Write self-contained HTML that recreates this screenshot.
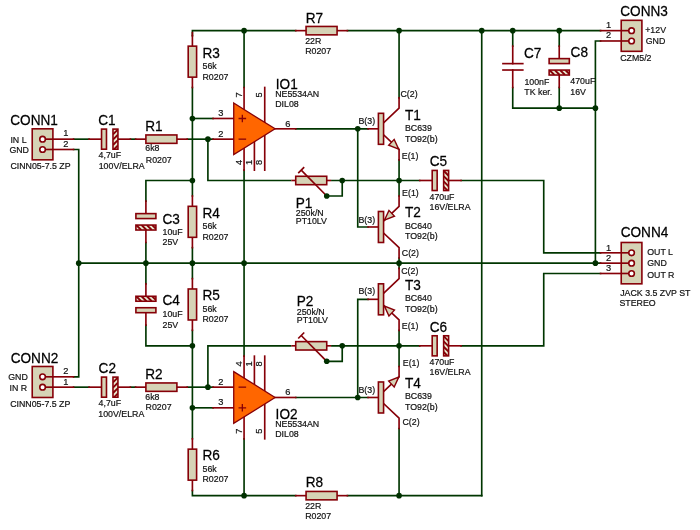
<!DOCTYPE html>
<html lang="en">
<head>
<meta charset="utf-8">
<title>Stereo headphone amplifier schematic</title>
<style>
html,body{margin:0;padding:0;background:#ffffff;}
body{width:700px;height:530px;overflow:hidden;}
svg{display:block;will-change:transform;}
text{font-family:"Liberation Sans",Arial,Helvetica,sans-serif;}
.b{font-size:15.3px;fill:#000000;stroke:#000000;stroke-width:0.25px;}
.s{font-size:9.9px;fill:#111111;stroke:#111111;stroke-width:0.22px;}
.p{font-size:9.6px;fill:#111111;stroke:#111111;stroke-width:0.2px;}
</style>
</head>
<body>
<svg width="700" height="530" viewBox="0 0 700 530">
<rect x="0" y="0" width="700" height="530" fill="#ffffff"/>
<polyline points="192.4,35.82 192.4,30.65 295.73,30.65" fill="none" stroke="#003600" stroke-width="1.65" stroke-linejoin="miter" stroke-linecap="square"/>
<polyline points="347.4,30.65 600.57,30.65" fill="none" stroke="#003600" stroke-width="1.65" stroke-linejoin="miter" stroke-linecap="square"/>
<polyline points="244.07,30.65 244.07,87.48" fill="none" stroke="#003600" stroke-width="1.65" stroke-linejoin="miter" stroke-linecap="square"/>
<polyline points="399.07,30.65 399.07,97.82" fill="none" stroke="#003600" stroke-width="1.65" stroke-linejoin="miter" stroke-linecap="square"/>
<polyline points="481.73,30.65 481.73,495.65" fill="none" stroke="#003600" stroke-width="1.65" stroke-linejoin="miter" stroke-linecap="square"/>
<polyline points="512.73,30.65 512.73,46.15" fill="none" stroke="#003600" stroke-width="1.65" stroke-linejoin="miter" stroke-linecap="square"/>
<polyline points="559.23,30.65 559.23,46.15" fill="none" stroke="#003600" stroke-width="1.65" stroke-linejoin="miter" stroke-linecap="square"/>
<polyline points="512.73,87.48 512.73,108.15 595.4,108.15" fill="none" stroke="#003600" stroke-width="1.65" stroke-linejoin="miter" stroke-linecap="square"/>
<polyline points="559.23,87.48 559.23,108.15" fill="none" stroke="#003600" stroke-width="1.65" stroke-linejoin="miter" stroke-linecap="square"/>
<polyline points="600.57,40.98 595.4,40.98 595.4,263.15" fill="none" stroke="#003600" stroke-width="1.65" stroke-linejoin="miter" stroke-linecap="square"/>
<polyline points="192.4,87.48 192.4,195.98" fill="none" stroke="#003600" stroke-width="1.65" stroke-linejoin="miter" stroke-linecap="square"/>
<polyline points="192.4,247.65 192.4,278.65" fill="none" stroke="#003600" stroke-width="1.65" stroke-linejoin="miter" stroke-linecap="square"/>
<polyline points="192.4,330.32 192.4,438.82" fill="none" stroke="#003600" stroke-width="1.65" stroke-linejoin="miter" stroke-linecap="square"/>
<polyline points="192.4,490.48 192.4,495.65 295.73,495.65" fill="none" stroke="#003600" stroke-width="1.65" stroke-linejoin="miter" stroke-linecap="square"/>
<polyline points="347.4,495.65 481.73,495.65" fill="none" stroke="#003600" stroke-width="1.65" stroke-linejoin="miter" stroke-linecap="square"/>
<polyline points="192.4,118.48 213.07,118.48" fill="none" stroke="#003600" stroke-width="1.65" stroke-linejoin="miter" stroke-linecap="square"/>
<polyline points="192.4,407.82 213.07,407.82" fill="none" stroke="#003600" stroke-width="1.65" stroke-linejoin="miter" stroke-linecap="square"/>
<polyline points="244.07,170.15 244.07,356.15" fill="none" stroke="#003600" stroke-width="1.65" stroke-linejoin="miter" stroke-linecap="square"/>
<polyline points="244.07,438.82 244.07,495.65" fill="none" stroke="#003600" stroke-width="1.65" stroke-linejoin="miter" stroke-linecap="square"/>
<polyline points="73.57,149.48 78.73,149.48 78.73,376.82 73.57,376.82" fill="none" stroke="#003600" stroke-width="1.65" stroke-linejoin="miter" stroke-linecap="square"/>
<polyline points="78.73,263.15 600.57,263.15" fill="none" stroke="#003600" stroke-width="1.65" stroke-linejoin="miter" stroke-linecap="square"/>
<polyline points="73.57,139.15 89.07,139.15" fill="none" stroke="#003600" stroke-width="1.65" stroke-linejoin="miter" stroke-linecap="square"/>
<polyline points="130.4,139.15 135.57,139.15" fill="none" stroke="#003600" stroke-width="1.65" stroke-linejoin="miter" stroke-linecap="square"/>
<polyline points="187.23,139.15 213.07,139.15" fill="none" stroke="#003600" stroke-width="1.65" stroke-linejoin="miter" stroke-linecap="square"/>
<polyline points="207.9,139.15 207.9,180.48 290.57,180.48" fill="none" stroke="#003600" stroke-width="1.65" stroke-linejoin="miter" stroke-linecap="square"/>
<polyline points="73.57,387.15 89.07,387.15" fill="none" stroke="#003600" stroke-width="1.65" stroke-linejoin="miter" stroke-linecap="square"/>
<polyline points="130.4,387.15 135.57,387.15" fill="none" stroke="#003600" stroke-width="1.65" stroke-linejoin="miter" stroke-linecap="square"/>
<polyline points="187.23,387.15 213.07,387.15" fill="none" stroke="#003600" stroke-width="1.65" stroke-linejoin="miter" stroke-linecap="square"/>
<polyline points="207.9,387.15 207.9,345.82 290.57,345.82" fill="none" stroke="#003600" stroke-width="1.65" stroke-linejoin="miter" stroke-linecap="square"/>
<polyline points="145.9,201.15 145.9,180.48 192.4,180.48" fill="none" stroke="#003600" stroke-width="1.65" stroke-linejoin="miter" stroke-linecap="square"/>
<polyline points="145.9,242.48 145.9,283.82" fill="none" stroke="#003600" stroke-width="1.65" stroke-linejoin="miter" stroke-linecap="square"/>
<polyline points="145.9,325.15 145.9,345.82 192.4,345.82" fill="none" stroke="#003600" stroke-width="1.65" stroke-linejoin="miter" stroke-linecap="square"/>
<polyline points="331.9,180.48 419.73,180.48" fill="none" stroke="#003600" stroke-width="1.65" stroke-linejoin="miter" stroke-linecap="square"/>
<polyline points="326.73,195.98 342.23,195.98 342.23,180.48" fill="none" stroke="#003600" stroke-width="1.65" stroke-linejoin="miter" stroke-linecap="square"/>
<polyline points="331.9,345.82 419.73,345.82" fill="none" stroke="#003600" stroke-width="1.65" stroke-linejoin="miter" stroke-linecap="square"/>
<polyline points="326.73,361.32 342.23,361.32 342.23,345.82" fill="none" stroke="#003600" stroke-width="1.65" stroke-linejoin="miter" stroke-linecap="square"/>
<polyline points="461.07,180.48 543.73,180.48 543.73,252.82 600.57,252.82" fill="none" stroke="#003600" stroke-width="1.65" stroke-linejoin="miter" stroke-linecap="square"/>
<polyline points="461.07,345.82 543.73,345.82 543.73,273.48 600.57,273.48" fill="none" stroke="#003600" stroke-width="1.65" stroke-linejoin="miter" stroke-linecap="square"/>
<polyline points="295.73,128.82 368.07,128.82" fill="none" stroke="#003600" stroke-width="1.65" stroke-linejoin="miter" stroke-linecap="square"/>
<polyline points="357.73,128.82 357.73,226.98 368.07,226.98" fill="none" stroke="#003600" stroke-width="1.65" stroke-linejoin="miter" stroke-linecap="square"/>
<polyline points="295.73,397.48 368.07,397.48" fill="none" stroke="#003600" stroke-width="1.65" stroke-linejoin="miter" stroke-linecap="square"/>
<polyline points="357.73,397.48 357.73,299.32 368.07,299.32" fill="none" stroke="#003600" stroke-width="1.65" stroke-linejoin="miter" stroke-linecap="square"/>
<polyline points="399.07,159.82 399.07,195.98" fill="none" stroke="#003600" stroke-width="1.65" stroke-linejoin="miter" stroke-linecap="square"/>
<polyline points="399.07,257.98 399.07,268.32" fill="none" stroke="#003600" stroke-width="1.65" stroke-linejoin="miter" stroke-linecap="square"/>
<polyline points="399.07,330.32 399.07,366.48" fill="none" stroke="#003600" stroke-width="1.65" stroke-linejoin="miter" stroke-linecap="square"/>
<polyline points="399.07,428.48 399.07,495.65" fill="none" stroke="#003600" stroke-width="1.65" stroke-linejoin="miter" stroke-linecap="square"/>
<polyline points="295.73,30.65 306.07,30.65" fill="none" stroke="#860008" stroke-width="1.65" stroke-linecap="square"/>
<polyline points="337.07,30.65 347.4,30.65" fill="none" stroke="#860008" stroke-width="1.65" stroke-linecap="square"/>
<rect x="306.07" y="26.45" width="31.00" height="8.40" fill="#d6d3b6" stroke="#860008" stroke-width="1.6"/>
<polyline points="295.73,495.65 306.07,495.65" fill="none" stroke="#860008" stroke-width="1.65" stroke-linecap="square"/>
<polyline points="337.07,495.65 347.4,495.65" fill="none" stroke="#860008" stroke-width="1.65" stroke-linecap="square"/>
<rect x="306.07" y="491.45" width="31.00" height="8.40" fill="#d6d3b6" stroke="#860008" stroke-width="1.6"/>
<polyline points="135.57,139.15 145.9,139.15" fill="none" stroke="#860008" stroke-width="1.65" stroke-linecap="square"/>
<polyline points="176.9,139.15 187.23,139.15" fill="none" stroke="#860008" stroke-width="1.65" stroke-linecap="square"/>
<rect x="145.90" y="134.95" width="31.00" height="8.40" fill="#d6d3b6" stroke="#860008" stroke-width="1.6"/>
<polyline points="135.57,387.15 145.9,387.15" fill="none" stroke="#860008" stroke-width="1.65" stroke-linecap="square"/>
<polyline points="176.9,387.15 187.23,387.15" fill="none" stroke="#860008" stroke-width="1.65" stroke-linecap="square"/>
<rect x="145.90" y="382.95" width="31.00" height="8.40" fill="#d6d3b6" stroke="#860008" stroke-width="1.6"/>
<polyline points="192.4,35.82 192.4,46.15" fill="none" stroke="#860008" stroke-width="1.65" stroke-linecap="square"/>
<polyline points="192.4,77.15 192.4,87.48" fill="none" stroke="#860008" stroke-width="1.65" stroke-linecap="square"/>
<rect x="188.20" y="46.15" width="8.40" height="31.00" fill="#d6d3b6" stroke="#860008" stroke-width="1.6"/>
<polyline points="192.4,31.849999999999998 192.4,35.82" fill="none" stroke="#860008" stroke-width="1.65" stroke-linecap="butt"/>
<polyline points="192.4,195.98 192.4,206.32" fill="none" stroke="#860008" stroke-width="1.65" stroke-linecap="square"/>
<polyline points="192.4,237.32 192.4,247.65" fill="none" stroke="#860008" stroke-width="1.65" stroke-linecap="square"/>
<rect x="188.20" y="206.32" width="8.40" height="31.00" fill="#d6d3b6" stroke="#860008" stroke-width="1.6"/>
<polyline points="192.4,278.65 192.4,288.98" fill="none" stroke="#860008" stroke-width="1.65" stroke-linecap="square"/>
<polyline points="192.4,319.98 192.4,330.32" fill="none" stroke="#860008" stroke-width="1.65" stroke-linecap="square"/>
<rect x="188.20" y="288.98" width="8.40" height="31.00" fill="#d6d3b6" stroke="#860008" stroke-width="1.6"/>
<polyline points="192.4,438.82 192.4,449.15" fill="none" stroke="#860008" stroke-width="1.65" stroke-linecap="square"/>
<polyline points="192.4,480.15 192.4,490.48" fill="none" stroke="#860008" stroke-width="1.65" stroke-linecap="square"/>
<rect x="188.20" y="449.15" width="8.40" height="31.00" fill="#d6d3b6" stroke="#860008" stroke-width="1.6"/>
<polyline points="89.07,139.15 101.53,139.15" fill="none" stroke="#860008" stroke-width="1.65" stroke-linecap="square"/>
<polyline points="117.93,139.15 130.4,139.15" fill="none" stroke="#860008" stroke-width="1.65" stroke-linecap="square"/>
<rect x="101.53" y="129.10" width="4.95" height="20.10" fill="#d6d3b6" stroke="#860008" stroke-width="1.6"/>
<clipPath id="c74"><rect x="112.98" y="129.10" width="4.95" height="20.10"/></clipPath>
<rect x="112.98" y="129.10" width="4.95" height="20.10" fill="#e8ecd2"/>
<g clip-path="url(#c74)" stroke="#860008" stroke-width="1.9"><line x1="112.98" y1="129.10" x2="117.93" y2="124.15"/><line x1="112.98" y1="134.40" x2="117.93" y2="129.45"/><line x1="112.98" y1="139.70" x2="117.93" y2="134.75"/><line x1="112.98" y1="145.00" x2="117.93" y2="140.05"/><line x1="112.98" y1="150.30" x2="117.93" y2="145.35"/><line x1="112.98" y1="155.60" x2="117.93" y2="150.65"/></g>
<rect x="112.98" y="129.10" width="4.95" height="20.10" fill="none" stroke="#860008" stroke-width="1.6"/>
<polyline points="89.07,387.15 101.53,387.15" fill="none" stroke="#860008" stroke-width="1.65" stroke-linecap="square"/>
<polyline points="117.93,387.15 130.4,387.15" fill="none" stroke="#860008" stroke-width="1.65" stroke-linecap="square"/>
<rect x="101.53" y="377.10" width="4.95" height="20.10" fill="#d6d3b6" stroke="#860008" stroke-width="1.6"/>
<clipPath id="c81"><rect x="112.98" y="377.10" width="4.95" height="20.10"/></clipPath>
<rect x="112.98" y="377.10" width="4.95" height="20.10" fill="#e8ecd2"/>
<g clip-path="url(#c81)" stroke="#860008" stroke-width="1.9"><line x1="112.98" y1="377.10" x2="117.93" y2="372.15"/><line x1="112.98" y1="382.40" x2="117.93" y2="377.45"/><line x1="112.98" y1="387.70" x2="117.93" y2="382.75"/><line x1="112.98" y1="393.00" x2="117.93" y2="388.05"/><line x1="112.98" y1="398.30" x2="117.93" y2="393.35"/><line x1="112.98" y1="403.60" x2="117.93" y2="398.65"/></g>
<rect x="112.98" y="377.10" width="4.95" height="20.10" fill="none" stroke="#860008" stroke-width="1.6"/>
<polyline points="419.73,180.48 432.2,180.48" fill="none" stroke="#860008" stroke-width="1.65" stroke-linecap="square"/>
<polyline points="448.59999999999997,180.48 461.07,180.48" fill="none" stroke="#860008" stroke-width="1.65" stroke-linecap="square"/>
<rect x="432.20" y="170.43" width="4.95" height="20.10" fill="#d6d3b6" stroke="#860008" stroke-width="1.6"/>
<clipPath id="c88"><rect x="443.65" y="170.43" width="4.95" height="20.10"/></clipPath>
<rect x="443.65" y="170.43" width="4.95" height="20.10" fill="#e8ecd2"/>
<g clip-path="url(#c88)" stroke="#860008" stroke-width="1.9"><line x1="443.65" y1="165.48" x2="448.60" y2="170.43"/><line x1="443.65" y1="170.78" x2="448.60" y2="175.73"/><line x1="443.65" y1="176.08" x2="448.60" y2="181.03"/><line x1="443.65" y1="181.38" x2="448.60" y2="186.33"/><line x1="443.65" y1="186.68" x2="448.60" y2="191.63"/><line x1="443.65" y1="191.98" x2="448.60" y2="196.93"/></g>
<rect x="443.65" y="170.43" width="4.95" height="20.10" fill="none" stroke="#860008" stroke-width="1.6"/>
<polyline points="419.73,345.82 432.2,345.82" fill="none" stroke="#860008" stroke-width="1.65" stroke-linecap="square"/>
<polyline points="448.59999999999997,345.82 461.07,345.82" fill="none" stroke="#860008" stroke-width="1.65" stroke-linecap="square"/>
<rect x="432.20" y="335.77" width="4.95" height="20.10" fill="#d6d3b6" stroke="#860008" stroke-width="1.6"/>
<clipPath id="c95"><rect x="443.65" y="335.77" width="4.95" height="20.10"/></clipPath>
<rect x="443.65" y="335.77" width="4.95" height="20.10" fill="#e8ecd2"/>
<g clip-path="url(#c95)" stroke="#860008" stroke-width="1.9"><line x1="443.65" y1="330.82" x2="448.60" y2="335.77"/><line x1="443.65" y1="336.12" x2="448.60" y2="341.07"/><line x1="443.65" y1="341.42" x2="448.60" y2="346.37"/><line x1="443.65" y1="346.72" x2="448.60" y2="351.67"/><line x1="443.65" y1="352.02" x2="448.60" y2="356.97"/><line x1="443.65" y1="357.32" x2="448.60" y2="362.27"/></g>
<rect x="443.65" y="335.77" width="4.95" height="20.10" fill="none" stroke="#860008" stroke-width="1.6"/>
<polyline points="145.9,201.15 145.9,213.62" fill="none" stroke="#860008" stroke-width="1.65" stroke-linecap="square"/>
<polyline points="145.9,230.01999999999998 145.9,242.48" fill="none" stroke="#860008" stroke-width="1.65" stroke-linecap="square"/>
<rect x="135.90" y="213.62" width="20.00" height="4.95" fill="#d6d3b6" stroke="#860008" stroke-width="1.6"/>
<clipPath id="c102"><rect x="135.90" y="225.07" width="20.00" height="4.95"/></clipPath>
<rect x="135.90" y="225.07" width="20.00" height="4.95" fill="#e8ecd2"/>
<g clip-path="url(#c102)" stroke="#860008" stroke-width="1.9"><line x1="130.95" y1="225.07" x2="135.90" y2="230.02"/><line x1="136.25" y1="225.07" x2="141.20" y2="230.02"/><line x1="141.55" y1="225.07" x2="146.50" y2="230.02"/><line x1="146.85" y1="225.07" x2="151.80" y2="230.02"/><line x1="152.15" y1="225.07" x2="157.10" y2="230.02"/><line x1="157.45" y1="225.07" x2="162.40" y2="230.02"/></g>
<rect x="135.90" y="225.07" width="20.00" height="4.95" fill="none" stroke="#860008" stroke-width="1.6"/>
<polyline points="145.9,283.82 145.9,296.28000000000003" fill="none" stroke="#860008" stroke-width="1.65" stroke-linecap="square"/>
<polyline points="145.9,312.68 145.9,325.15" fill="none" stroke="#860008" stroke-width="1.65" stroke-linecap="square"/>
<clipPath id="c108"><rect x="135.90" y="296.28" width="20.00" height="4.95"/></clipPath>
<rect x="135.90" y="296.28" width="20.00" height="4.95" fill="#e8ecd2"/>
<g clip-path="url(#c108)" stroke="#860008" stroke-width="1.9"><line x1="130.95" y1="296.28" x2="135.90" y2="301.23"/><line x1="136.25" y1="296.28" x2="141.20" y2="301.23"/><line x1="141.55" y1="296.28" x2="146.50" y2="301.23"/><line x1="146.85" y1="296.28" x2="151.80" y2="301.23"/><line x1="152.15" y1="296.28" x2="157.10" y2="301.23"/><line x1="157.45" y1="296.28" x2="162.40" y2="301.23"/></g>
<rect x="135.90" y="296.28" width="20.00" height="4.95" fill="none" stroke="#860008" stroke-width="1.6"/>
<rect x="135.90" y="307.73" width="20.00" height="4.95" fill="#d6d3b6" stroke="#860008" stroke-width="1.6"/>
<polyline points="559.23,46.15 559.23,58.61999999999999" fill="none" stroke="#860008" stroke-width="1.65" stroke-linecap="square"/>
<polyline points="559.23,75.02 559.23,87.48" fill="none" stroke="#860008" stroke-width="1.65" stroke-linecap="square"/>
<rect x="549.13" y="58.62" width="20.20" height="4.95" fill="#d6d3b6" stroke="#860008" stroke-width="1.6"/>
<clipPath id="c116"><rect x="549.13" y="70.07" width="20.20" height="4.95"/></clipPath>
<rect x="549.13" y="70.07" width="20.20" height="4.95" fill="#e8ecd2"/>
<g clip-path="url(#c116)" stroke="#860008" stroke-width="1.9"><line x1="544.18" y1="70.07" x2="549.13" y2="75.02"/><line x1="549.48" y1="70.07" x2="554.43" y2="75.02"/><line x1="554.78" y1="70.07" x2="559.73" y2="75.02"/><line x1="560.08" y1="70.07" x2="565.03" y2="75.02"/><line x1="565.38" y1="70.07" x2="570.33" y2="75.02"/><line x1="570.68" y1="70.07" x2="575.63" y2="75.02"/></g>
<rect x="549.13" y="70.07" width="20.20" height="4.95" fill="none" stroke="#860008" stroke-width="1.6"/>
<polyline points="512.73,46.15 512.73,63.61999999999999" fill="none" stroke="#860008" stroke-width="1.65" stroke-linecap="square"/>
<polyline points="512.73,70.02 512.73,87.48" fill="none" stroke="#860008" stroke-width="1.65" stroke-linecap="square"/>
<polyline points="502.13,63.61999999999999 523.63,63.61999999999999" fill="none" stroke="#860008" stroke-width="1.65" stroke-linecap="butt"/>
<polyline points="502.13,70.02 523.63,70.02" fill="none" stroke="#860008" stroke-width="1.65" stroke-linecap="butt"/>
<rect x="32.23" y="128.82" width="20.67" height="31.00" fill="#d6d3b6" stroke="#860008" stroke-width="1.6"/>
<polyline points="45.57,139.15 73.57,139.15" fill="none" stroke="#860008" stroke-width="1.65" stroke-linecap="square"/>
<circle cx="42.57" cy="139.15" r="2.8" fill="#ffffff" stroke="#860008" stroke-width="1.6"/>
<polyline points="45.57,149.48 73.57,149.48" fill="none" stroke="#860008" stroke-width="1.65" stroke-linecap="square"/>
<circle cx="42.57" cy="149.48" r="2.8" fill="#ffffff" stroke="#860008" stroke-width="1.6"/>
<rect x="32.23" y="366.48" width="20.67" height="31.00" fill="#d6d3b6" stroke="#860008" stroke-width="1.6"/>
<polyline points="45.57,376.82 73.57,376.82" fill="none" stroke="#860008" stroke-width="1.65" stroke-linecap="square"/>
<circle cx="42.57" cy="376.82" r="2.8" fill="#ffffff" stroke="#860008" stroke-width="1.6"/>
<polyline points="45.57,387.15 73.57,387.15" fill="none" stroke="#860008" stroke-width="1.65" stroke-linecap="square"/>
<circle cx="42.57" cy="387.15" r="2.8" fill="#ffffff" stroke="#860008" stroke-width="1.6"/>
<rect x="621.23" y="20.32" width="20.67" height="31.00" fill="#d6d3b6" stroke="#860008" stroke-width="1.6"/>
<polyline points="600.57,30.65 628.57,30.65" fill="none" stroke="#860008" stroke-width="1.65" stroke-linecap="square"/>
<circle cx="631.57" cy="30.65" r="2.8" fill="#ffffff" stroke="#860008" stroke-width="1.6"/>
<polyline points="600.57,40.98 628.57,40.98" fill="none" stroke="#860008" stroke-width="1.65" stroke-linecap="square"/>
<circle cx="631.57" cy="40.98" r="2.8" fill="#ffffff" stroke="#860008" stroke-width="1.6"/>
<rect x="621.23" y="242.48" width="20.67" height="41.34" fill="#d6d3b6" stroke="#860008" stroke-width="1.6"/>
<polyline points="600.57,252.82 628.57,252.82" fill="none" stroke="#860008" stroke-width="1.65" stroke-linecap="square"/>
<circle cx="631.57" cy="252.82" r="2.8" fill="#ffffff" stroke="#860008" stroke-width="1.6"/>
<polyline points="600.57,263.15 628.57,263.15" fill="none" stroke="#860008" stroke-width="1.65" stroke-linecap="square"/>
<circle cx="631.57" cy="263.15" r="2.8" fill="#ffffff" stroke="#860008" stroke-width="1.6"/>
<polyline points="600.57,273.48 628.57,273.48" fill="none" stroke="#860008" stroke-width="1.65" stroke-linecap="square"/>
<circle cx="631.57" cy="273.48" r="2.8" fill="#ffffff" stroke="#860008" stroke-width="1.6"/>
<polyline points="213.07,118.48 233.73,118.48" fill="none" stroke="#860008" stroke-width="1.65" stroke-linecap="square"/>
<polyline points="213.07,139.15 233.73,139.15" fill="none" stroke="#860008" stroke-width="1.65" stroke-linecap="square"/>
<polyline points="275.07,128.82 295.73,128.82" fill="none" stroke="#860008" stroke-width="1.65" stroke-linecap="square"/>
<polyline points="244.07,87.48 244.07,128.82" fill="none" stroke="#860008" stroke-width="1.65" stroke-linecap="square"/>
<polyline points="264.73,87.48 264.73,128.82" fill="none" stroke="#860008" stroke-width="1.65" stroke-linecap="square"/>
<polyline points="244.07,128.82 244.07,170.15" fill="none" stroke="#860008" stroke-width="1.65" stroke-linecap="square"/>
<polyline points="254.4,128.82 254.4,170.15" fill="none" stroke="#860008" stroke-width="1.65" stroke-linecap="square"/>
<polyline points="264.73,128.82 264.73,170.15" fill="none" stroke="#860008" stroke-width="1.65" stroke-linecap="square"/>
<polygon points="233.73,102.98 275.07,128.82 233.73,154.65" fill="#ff6600" stroke="#860008" stroke-width="1.3" stroke-linejoin="miter"/>
<path d="M238.52999999999997,118.48 H246.13 M242.32999999999998,114.68 V122.28" stroke="#860008" stroke-width="1.3" fill="none"/>
<path d="M238.52999999999997,139.15 H246.13" stroke="#860008" stroke-width="1.3" fill="none"/>
<polyline points="213.07,387.15 233.73,387.15" fill="none" stroke="#860008" stroke-width="1.65" stroke-linecap="square"/>
<polyline points="213.07,407.82 233.73,407.82" fill="none" stroke="#860008" stroke-width="1.65" stroke-linecap="square"/>
<polyline points="275.07,397.48 295.73,397.48" fill="none" stroke="#860008" stroke-width="1.65" stroke-linecap="square"/>
<polyline points="244.07,356.15 244.07,397.48" fill="none" stroke="#860008" stroke-width="1.65" stroke-linecap="square"/>
<polyline points="254.4,356.15 254.4,397.48" fill="none" stroke="#860008" stroke-width="1.65" stroke-linecap="square"/>
<polyline points="264.73,356.15 264.73,397.48" fill="none" stroke="#860008" stroke-width="1.65" stroke-linecap="square"/>
<polyline points="244.07,397.48 244.07,438.82" fill="none" stroke="#860008" stroke-width="1.65" stroke-linecap="square"/>
<polyline points="264.73,397.48 264.73,438.82" fill="none" stroke="#860008" stroke-width="1.65" stroke-linecap="square"/>
<polygon points="233.73,371.65 275.07,397.48 233.73,423.32" fill="#ff6600" stroke="#860008" stroke-width="1.3" stroke-linejoin="miter"/>
<path d="M238.52999999999997,407.82 H246.13 M242.32999999999998,404.02 V411.62" stroke="#860008" stroke-width="1.3" fill="none"/>
<path d="M238.52999999999997,387.15 H246.13" stroke="#860008" stroke-width="1.3" fill="none"/>
<polyline points="368.07,128.82 378.4,128.82" fill="none" stroke="#860008" stroke-width="1.65" stroke-linecap="square"/>
<polyline points="383.57,122.82 399.07,108.15 399.07,97.82" fill="none" stroke="#860008" stroke-width="1.65" stroke-linecap="square"/>
<polyline points="383.57,134.82 399.07,149.48 399.07,159.82" fill="none" stroke="#860008" stroke-width="1.65" stroke-linecap="square"/>
<rect x="378.40" y="113.32" width="5.17" height="31.00" fill="#d6d3b6" stroke="#860008" stroke-width="1.6"/>
<polygon points="398.71,149.14 388.69,145.17 394.19,139.36" fill="#d6d3b6" stroke="#860008" stroke-width="1.4" stroke-linejoin="miter"/>
<polyline points="368.07,226.98 378.4,226.98" fill="none" stroke="#860008" stroke-width="1.65" stroke-linecap="square"/>
<polyline points="383.57,220.98 399.07,206.32 399.07,195.98" fill="none" stroke="#860008" stroke-width="1.65" stroke-linecap="square"/>
<polyline points="383.57,232.98 399.07,247.65 399.07,257.98" fill="none" stroke="#860008" stroke-width="1.65" stroke-linecap="square"/>
<rect x="378.40" y="211.48" width="5.17" height="31.00" fill="#d6d3b6" stroke="#860008" stroke-width="1.6"/>
<polygon points="384.44,220.16 394.46,216.19 388.96,210.38" fill="#d6d3b6" stroke="#860008" stroke-width="1.4" stroke-linejoin="miter"/>
<polyline points="368.07,299.32 378.4,299.32" fill="none" stroke="#860008" stroke-width="1.65" stroke-linecap="square"/>
<polyline points="383.57,293.32 399.07,278.65 399.07,268.32" fill="none" stroke="#860008" stroke-width="1.65" stroke-linecap="square"/>
<polyline points="383.57,305.32 399.07,319.98 399.07,330.32" fill="none" stroke="#860008" stroke-width="1.65" stroke-linecap="square"/>
<rect x="378.40" y="283.82" width="5.17" height="31.00" fill="#d6d3b6" stroke="#860008" stroke-width="1.6"/>
<polygon points="384.44,306.14 388.96,315.92 394.46,310.11" fill="#d6d3b6" stroke="#860008" stroke-width="1.4" stroke-linejoin="miter"/>
<polyline points="368.07,397.48 378.4,397.48" fill="none" stroke="#860008" stroke-width="1.65" stroke-linecap="square"/>
<polyline points="383.57,391.48 399.07,376.82 399.07,366.48" fill="none" stroke="#860008" stroke-width="1.65" stroke-linecap="square"/>
<polyline points="383.57,403.48 399.07,418.15 399.07,428.48" fill="none" stroke="#860008" stroke-width="1.65" stroke-linecap="square"/>
<rect x="378.40" y="381.98" width="5.17" height="31.00" fill="#d6d3b6" stroke="#860008" stroke-width="1.6"/>
<polygon points="398.71,377.16 394.19,386.94 388.69,381.13" fill="#d6d3b6" stroke="#860008" stroke-width="1.4" stroke-linejoin="miter"/>
<polyline points="291.33000000000004,180.48 295.73,180.48" fill="none" stroke="#860008" stroke-width="1.65" stroke-linecap="butt"/>
<polyline points="326.73,180.48 331.13,180.48" fill="none" stroke="#860008" stroke-width="1.65" stroke-linecap="butt"/>
<rect x="295.73" y="176.28" width="31.00" height="8.40" fill="#d6d3b6" stroke="#860008" stroke-width="1.6"/>
<polyline points="326.73,195.98 301.21,170.15" fill="none" stroke="#860008" stroke-width="1.65" stroke-linecap="butt"/>
<polyline points="298.21,173.15 304.21,167.15" fill="none" stroke="#860008" stroke-width="1.65" stroke-linecap="butt"/>
<polyline points="291.33000000000004,345.82 295.73,345.82" fill="none" stroke="#860008" stroke-width="1.65" stroke-linecap="butt"/>
<polyline points="326.73,345.82 331.13,345.82" fill="none" stroke="#860008" stroke-width="1.65" stroke-linecap="butt"/>
<rect x="295.73" y="341.62" width="31.00" height="8.40" fill="#d6d3b6" stroke="#860008" stroke-width="1.6"/>
<polyline points="326.73,361.32 301.21,335.48" fill="none" stroke="#860008" stroke-width="1.65" stroke-linecap="butt"/>
<polyline points="298.21,338.48 304.21,332.48" fill="none" stroke="#860008" stroke-width="1.65" stroke-linecap="butt"/>
<circle cx="244.07" cy="30.65" r="2.8" fill="#003000"/>
<circle cx="399.07" cy="30.65" r="2.8" fill="#003000"/>
<circle cx="481.73" cy="30.65" r="2.8" fill="#003000"/>
<circle cx="512.73" cy="30.65" r="2.8" fill="#003000"/>
<circle cx="559.23" cy="30.65" r="2.8" fill="#003000"/>
<circle cx="559.23" cy="108.15" r="2.8" fill="#003000"/>
<circle cx="595.4" cy="108.15" r="2.8" fill="#003000"/>
<circle cx="595.4" cy="263.15" r="2.8" fill="#003000"/>
<circle cx="192.4" cy="118.48" r="2.8" fill="#003000"/>
<circle cx="207.9" cy="139.15" r="2.8" fill="#003000"/>
<circle cx="192.4" cy="180.48" r="2.8" fill="#003000"/>
<circle cx="342.23" cy="180.48" r="2.8" fill="#003000"/>
<circle cx="326.73" cy="195.98" r="2.8" fill="#003000"/>
<circle cx="399.07" cy="180.48" r="2.8" fill="#003000"/>
<circle cx="357.73" cy="128.82" r="2.8" fill="#003000"/>
<circle cx="78.73" cy="263.15" r="2.8" fill="#003000"/>
<circle cx="145.9" cy="263.15" r="2.8" fill="#003000"/>
<circle cx="192.4" cy="263.15" r="2.8" fill="#003000"/>
<circle cx="244.07" cy="263.15" r="2.8" fill="#003000"/>
<circle cx="399.07" cy="263.15" r="2.8" fill="#003000"/>
<circle cx="192.4" cy="345.82" r="2.8" fill="#003000"/>
<circle cx="342.23" cy="345.82" r="2.8" fill="#003000"/>
<circle cx="326.73" cy="361.32" r="2.8" fill="#003000"/>
<circle cx="399.07" cy="345.82" r="2.8" fill="#003000"/>
<circle cx="207.9" cy="387.15" r="2.8" fill="#003000"/>
<circle cx="192.4" cy="407.82" r="2.8" fill="#003000"/>
<circle cx="357.73" cy="397.48" r="2.8" fill="#003000"/>
<circle cx="244.07" cy="495.65" r="2.8" fill="#003000"/>
<circle cx="399.07" cy="495.65" r="2.8" fill="#003000"/>
<text transform="translate(10.3 125) scale(0.89 1)" class="b">CONN1</text>
<text transform="translate(10.4 142.7) scale(0.89 1)" class="s">IN L</text>
<text transform="translate(9.4 152.5) scale(0.89 1)" class="s">GND</text>
<text transform="translate(10.4 168.5) scale(0.89 1)" class="s">CINN05-7.5 ZP</text>
<text transform="translate(63.3 136.4) scale(0.97 1)" class="p">1</text>
<text transform="translate(63.3 146.8) scale(0.97 1)" class="p">2</text>
<text transform="translate(10.7 362.5) scale(0.89 1)" class="b">CONN2</text>
<text transform="translate(8.2 380) scale(0.89 1)" class="s">GND</text>
<text transform="translate(9.5 390.5) scale(0.89 1)" class="s">IN R</text>
<text transform="translate(10.2 406.8) scale(0.89 1)" class="s">CINN05-7.5 ZP</text>
<text transform="translate(63.3 374.4) scale(0.97 1)" class="p">2</text>
<text transform="translate(63.3 384.5) scale(0.97 1)" class="p">1</text>
<text transform="translate(620.3 16) scale(0.89 1)" class="b">CONN3</text>
<text transform="translate(645.2 32.7) scale(0.89 1)" class="s">+12V</text>
<text transform="translate(645.7 43.8) scale(0.89 1)" class="s">GND</text>
<text transform="translate(620.2 60.8) scale(0.89 1)" class="s">CZM5/2</text>
<text transform="translate(606 28.2) scale(0.97 1)" class="p">1</text>
<text transform="translate(606 38.4) scale(0.97 1)" class="p">2</text>
<text transform="translate(620.7 237) scale(0.89 1)" class="b">CONN4</text>
<text transform="translate(647.2 255.2) scale(0.89 1)" class="s">OUT L</text>
<text transform="translate(647.2 266.2) scale(0.89 1)" class="s">GND</text>
<text transform="translate(647.2 277.6) scale(0.89 1)" class="s">OUT R</text>
<text transform="translate(620.2 295.8) scale(0.89 1)" class="s">JACK 3.5 ZVP ST</text>
<text transform="translate(619.5 305.6) scale(0.89 1)" class="s">STEREO</text>
<text transform="translate(606 250.5) scale(0.97 1)" class="p">1</text>
<text transform="translate(606 260.6) scale(0.97 1)" class="p">2</text>
<text transform="translate(606 271.2) scale(0.97 1)" class="p">3</text>
<text transform="translate(98.2 125) scale(0.89 1)" class="b">C1</text>
<text transform="translate(98.6 157.5) scale(0.89 1)" class="s">4,7uF</text>
<text transform="translate(98.7 168.8) scale(0.89 1)" class="s">100V/ELRA</text>
<text transform="translate(98.6 372.5) scale(0.89 1)" class="b">C2</text>
<text transform="translate(98.6 406.2) scale(0.89 1)" class="s">4,7uF</text>
<text transform="translate(98.3 416.7) scale(0.89 1)" class="s">100V/ELRA</text>
<text transform="translate(145.3 131.2) scale(0.89 1)" class="b">R1</text>
<text transform="translate(145.3 150.5) scale(0.89 1)" class="s">6k8</text>
<text transform="translate(145.8 162.5) scale(0.89 1)" class="s">R0207</text>
<text transform="translate(145.3 378.8) scale(0.89 1)" class="b">R2</text>
<text transform="translate(145.3 400) scale(0.89 1)" class="s">6k8</text>
<text transform="translate(145.6 410.4) scale(0.89 1)" class="s">R0207</text>
<text transform="translate(202.5 57.5) scale(0.89 1)" class="b">R3</text>
<text transform="translate(202.5 68.8) scale(0.89 1)" class="s">56k</text>
<text transform="translate(202.5 79.5) scale(0.89 1)" class="s">R0207</text>
<text transform="translate(202.5 217.5) scale(0.89 1)" class="b">R4</text>
<text transform="translate(202.5 229.2) scale(0.89 1)" class="s">56k</text>
<text transform="translate(202.5 240) scale(0.89 1)" class="s">R0207</text>
<text transform="translate(202.5 300) scale(0.89 1)" class="b">R5</text>
<text transform="translate(202.5 311.5) scale(0.89 1)" class="s">56k</text>
<text transform="translate(202.5 322.2) scale(0.89 1)" class="s">R0207</text>
<text transform="translate(202.5 460) scale(0.89 1)" class="b">R6</text>
<text transform="translate(202.5 471.8) scale(0.89 1)" class="s">56k</text>
<text transform="translate(202.5 481.8) scale(0.89 1)" class="s">R0207</text>
<text transform="translate(305.8 23) scale(0.89 1)" class="b">R7</text>
<text transform="translate(305.2 43.8) scale(0.89 1)" class="s">22R</text>
<text transform="translate(305.2 53.8) scale(0.89 1)" class="s">R0207</text>
<text transform="translate(305.8 486.8) scale(0.89 1)" class="b">R8</text>
<text transform="translate(305.2 508.5) scale(0.89 1)" class="s">22R</text>
<text transform="translate(305.2 518.8) scale(0.89 1)" class="s">R0207</text>
<text transform="translate(162.5 224) scale(0.89 1)" class="b">C3</text>
<text transform="translate(162.5 234.5) scale(0.89 1)" class="s">10uF</text>
<text transform="translate(162.5 245) scale(0.89 1)" class="s">25V</text>
<text transform="translate(162.5 305) scale(0.89 1)" class="b">C4</text>
<text transform="translate(162.5 317) scale(0.89 1)" class="s">10uF</text>
<text transform="translate(162.5 327.5) scale(0.89 1)" class="s">25V</text>
<text transform="translate(275.8 88.8) scale(0.89 1)" class="b">IO1</text>
<text transform="translate(275.2 96.8) scale(0.89 1)" class="s">NE5534AN</text>
<text transform="translate(275.2 107) scale(0.89 1)" class="s">DIL08</text>
<text transform="translate(275.6 419.2) scale(0.89 1)" class="b">IO2</text>
<text transform="translate(275.2 426.8) scale(0.89 1)" class="s">NE5534AN</text>
<text transform="translate(275.2 437.1) scale(0.89 1)" class="s">DIL08</text>
<text transform="translate(295.8 207.5) scale(0.89 1)" class="b">P1</text>
<text transform="translate(295.8 215.5) scale(0.89 1)" class="s">250k/N</text>
<text transform="translate(295.8 223.8) scale(0.89 1)" class="s">PT10LV</text>
<text transform="translate(296.8 306.2) scale(0.89 1)" class="b">P2</text>
<text transform="translate(296.8 314.5) scale(0.89 1)" class="s">250k/N</text>
<text transform="translate(296.8 322.5) scale(0.89 1)" class="s">PT10LV</text>
<text transform="translate(404.9 119.5) scale(0.89 1)" class="b">T1</text>
<text transform="translate(405 131.3) scale(0.89 1)" class="s">BC639</text>
<text transform="translate(405 141.8) scale(0.89 1)" class="s">TO92(b)</text>
<text transform="translate(404.9 217) scale(0.89 1)" class="b">T2</text>
<text transform="translate(405 228.8) scale(0.89 1)" class="s">BC640</text>
<text transform="translate(405 239.3) scale(0.89 1)" class="s">TO92(b)</text>
<text transform="translate(404.9 289.5) scale(0.89 1)" class="b">T3</text>
<text transform="translate(405 301.3) scale(0.89 1)" class="s">BC640</text>
<text transform="translate(405 311.8) scale(0.89 1)" class="s">TO92(b)</text>
<text transform="translate(404.9 387.5) scale(0.89 1)" class="b">T4</text>
<text transform="translate(405 399.3) scale(0.89 1)" class="s">BC639</text>
<text transform="translate(405 409.8) scale(0.89 1)" class="s">TO92(b)</text>
<text transform="translate(429.7 166.4) scale(0.89 1)" class="b">C5</text>
<text transform="translate(429.5 199.5) scale(0.89 1)" class="s">470uF</text>
<text transform="translate(429.5 210) scale(0.89 1)" class="s">16V/ELRA</text>
<text transform="translate(429.7 331.6) scale(0.89 1)" class="b">C6</text>
<text transform="translate(429.5 364.5) scale(0.89 1)" class="s">470uF</text>
<text transform="translate(429.5 375) scale(0.89 1)" class="s">16V/ELRA</text>
<text transform="translate(523.9 57.5) scale(0.89 1)" class="b">C7</text>
<text transform="translate(524.4 84.5) scale(0.89 1)" class="s">100nF</text>
<text transform="translate(524.3 94.6) scale(0.89 1)" class="s">TK ker.</text>
<text transform="translate(570.6 57.3) scale(0.89 1)" class="b">C8</text>
<text transform="translate(570.3 84.4) scale(0.89 1)" class="s">470uF</text>
<text transform="translate(570.3 94.6) scale(0.89 1)" class="s">16V</text>
<text transform="translate(400.5 96.8) scale(0.89 1)" class="s">C(2)</text>
<text transform="translate(358.5 123.5) scale(0.89 1)" class="s">B(3)</text>
<text transform="translate(401.8 158.5) scale(0.89 1)" class="s">E(1)</text>
<text transform="translate(402.1 195.9) scale(0.89 1)" class="s">E(1)</text>
<text transform="translate(358.5 222.5) scale(0.89 1)" class="s">B(3)</text>
<text transform="translate(401.8 255.5) scale(0.89 1)" class="s">C(2)</text>
<text transform="translate(401.2 273.8) scale(0.89 1)" class="s">C(2)</text>
<text transform="translate(358.5 293.8) scale(0.89 1)" class="s">B(3)</text>
<text transform="translate(401.8 328.8) scale(0.89 1)" class="s">E(1)</text>
<text transform="translate(402.8 365.5) scale(0.89 1)" class="s">E(1)</text>
<text transform="translate(358.5 393) scale(0.89 1)" class="s">B(3)</text>
<text transform="translate(402.5 425) scale(0.89 1)" class="s">C(2)</text>
<text transform="translate(218.3 116) scale(0.97 1)" class="p">3</text>
<text transform="translate(218.3 136.6) scale(0.97 1)" class="p">2</text>
<text transform="translate(285.3 126.5) scale(0.97 1)" class="p">6</text>
<text transform="translate(218.3 384.6) scale(0.97 1)" class="p">2</text>
<text transform="translate(218.3 405.2) scale(0.97 1)" class="p">3</text>
<text transform="translate(285.3 395) scale(0.97 1)" class="p">6</text>
<text transform="translate(241.5 97.6) rotate(-90) scale(0.97 1)" class="p">7</text>
<text transform="translate(262 97.6) rotate(-90) scale(0.97 1)" class="p">5</text>
<text transform="translate(241.5 165) rotate(-90) scale(0.97 1)" class="p">4</text>
<text transform="translate(251.5 165) rotate(-90) scale(0.97 1)" class="p">1</text>
<text transform="translate(262 165) rotate(-90) scale(0.97 1)" class="p">8</text>
<text transform="translate(241.5 366.6) rotate(-90) scale(0.97 1)" class="p">4</text>
<text transform="translate(251.5 366.6) rotate(-90) scale(0.97 1)" class="p">1</text>
<text transform="translate(262 366.6) rotate(-90) scale(0.97 1)" class="p">8</text>
<text transform="translate(241.5 433.7) rotate(-90) scale(0.97 1)" class="p">7</text>
<text transform="translate(262 433.7) rotate(-90) scale(0.97 1)" class="p">5</text>
</svg>
</body>
</html>
